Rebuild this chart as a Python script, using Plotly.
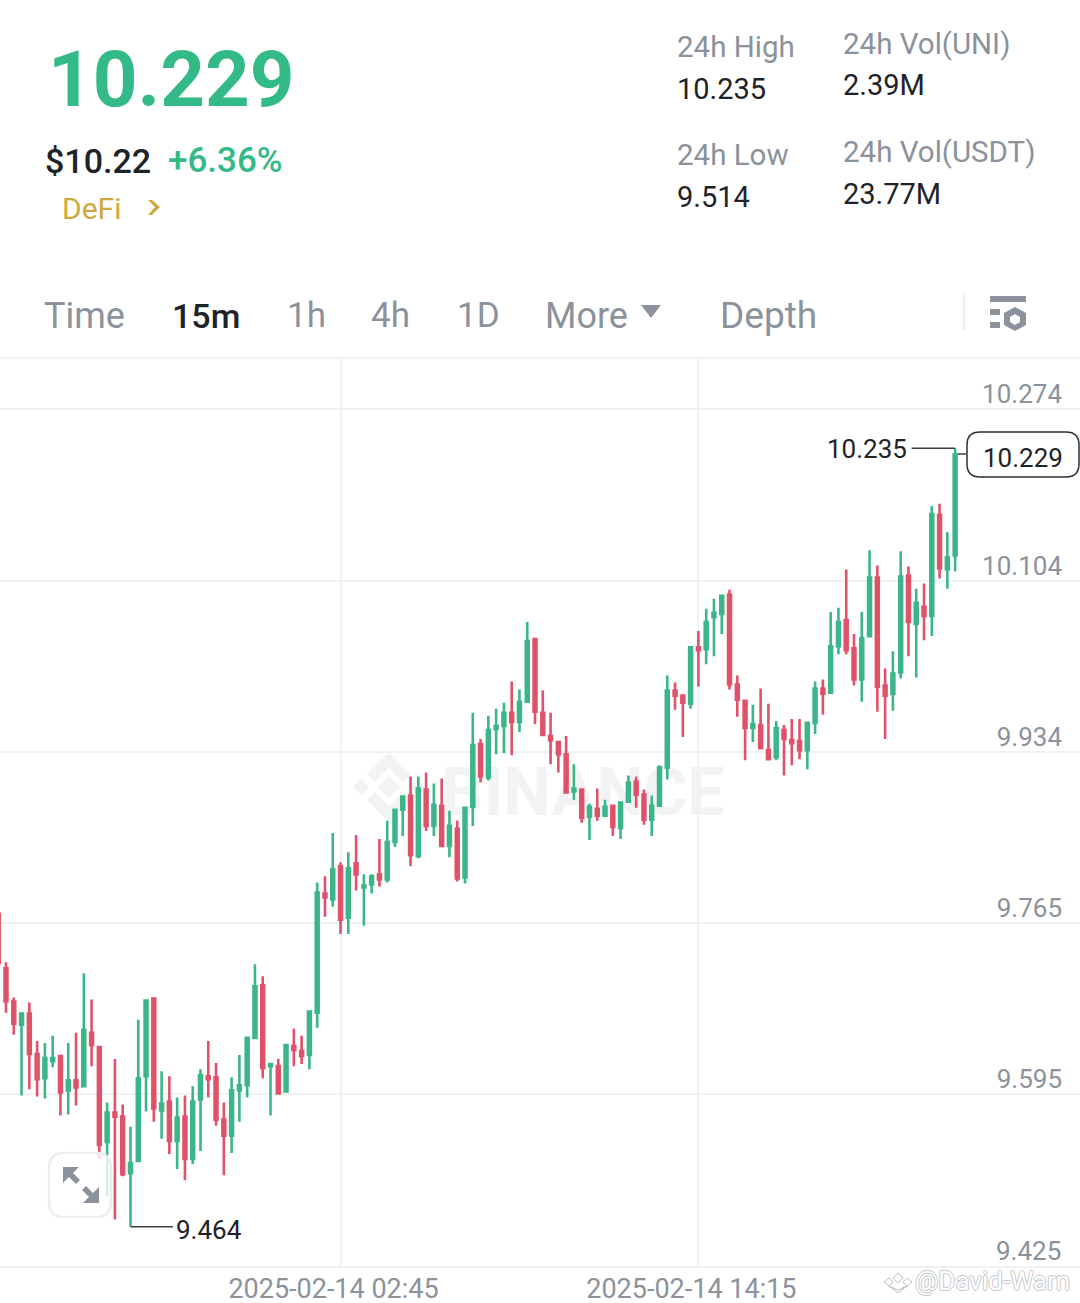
import pandas as pd
import plotly.graph_objects as go

WIDTH = 1080
HEIGHT = 1303

# candle values (15m candles, UNI/USDT)
high = [
    9.776, 9.726, 9.691, 9.675, 9.686, 9.648, 9.646, 9.653, 9.634, 9.646,
    9.656, 9.715, 9.689, 9.642, 9.587, 9.630, 9.585, 9.563, 9.669, 9.688,
    9.690, 9.618, 9.613, 9.592, 9.594, 9.603, 9.620, 9.648, 9.626, 9.587,
    9.612, 9.634, 9.651, 9.724, 9.712, 9.626, 9.630, 9.644, 9.660, 9.653,
    9.677, 9.805, 9.811, 9.854, 9.825, 9.835, 9.852, 9.813, 9.813, 9.848,
    9.866, 9.878, 9.891, 9.910, 9.910, 9.914, 9.903, 9.908, 9.876, 9.866,
    9.879, 9.973, 9.947, 9.970, 9.977, 9.983, 10.004, 9.996, 10.063, 10.047,
    9.995, 9.973, 9.945, 9.950, 9.922, 9.897, 9.883, 9.898, 9.887, 9.882,
    9.884, 9.911, 9.910, 9.897, 9.891, 9.921, 10.010, 10.003, 9.991, 10.038,
    10.054, 10.076, 10.086, 10.089, 10.095, 10.010, 9.986, 9.981, 9.997, 9.982,
    9.965, 9.961, 9.967, 9.967, 9.963, 10.004, 10.006, 10.073, 10.077, 10.115,
    10.051, 10.073, 10.134, 10.119, 10.017, 10.034, 10.133, 10.118, 10.096, 10.101,
    10.178, 10.180, 10.152, 10.235,
]
body_top = [
    9.774, 9.720, 9.687, 9.675, 9.675, 9.635, 9.631, 9.631, 9.633, 9.609,
    9.609, 9.659, 9.656, 9.642, 9.577, 9.577, 9.573, 9.527, 9.611, 9.688,
    9.690, 9.586, 9.588, 9.572, 9.573, 9.588, 9.614, 9.613, 9.612, 9.570,
    9.599, 9.604, 9.651, 9.702, 9.703, 9.625, 9.623, 9.644, 9.643, 9.638,
    9.677, 9.795, 9.794, 9.818, 9.821, 9.819, 9.824, 9.802, 9.811, 9.813,
    9.845, 9.877, 9.890, 9.891, 9.898, 9.897, 9.882, 9.881, 9.861, 9.858,
    9.879, 9.941, 9.942, 9.956, 9.960, 9.973, 9.973, 9.984, 10.044, 10.046,
    9.973, 9.950, 9.944, 9.932, 9.898, 9.897, 9.880, 9.878, 9.880, 9.881,
    9.884, 9.904, 9.905, 9.892, 9.881, 9.919, 9.995, 9.995, 9.990, 10.038,
    10.038, 10.063, 10.072, 10.089, 10.090, 10.001, 9.985, 9.962, 9.961, 9.936,
    9.958, 9.956, 9.946, 9.945, 9.963, 9.997, 9.997, 10.039, 10.063, 10.065,
    10.037, 10.047, 10.107, 10.107, 10.000, 10.012, 10.108, 10.109, 10.082, 10.078,
    10.170, 10.169, 10.127, 10.229,
]
body_bottom = [
    9.725, 9.687, 9.665, 9.664, 9.635, 9.610, 9.611, 9.628, 9.597, 9.599,
    9.602, 9.603, 9.644, 9.545, 9.548, 9.573, 9.516, 9.517, 9.529, 9.613,
    9.581, 9.579, 9.549, 9.549, 9.531, 9.531, 9.590, 9.610, 9.570, 9.554,
    9.554, 9.599, 9.604, 9.651, 9.621, 9.623, 9.596, 9.598, 9.639, 9.633,
    9.634, 9.676, 9.790, 9.788, 9.768, 9.770, 9.813, 9.800, 9.803, 9.808,
    9.808, 9.845, 9.877, 9.832, 9.831, 9.861, 9.861, 9.841, 9.841, 9.809,
    9.810, 9.880, 9.910, 9.909, 9.957, 9.960, 9.964, 9.964, 9.984, 9.974,
    9.951, 9.946, 9.932, 9.894, 9.895, 9.869, 9.870, 9.871, 9.871, 9.860,
    9.859, 9.885, 9.892, 9.867, 9.867, 9.881, 9.919, 9.990, 9.983, 9.982,
    10.035, 10.036, 10.068, 10.071, 10.001, 9.986, 9.958, 9.958, 9.938, 9.927,
    9.929, 9.947, 9.943, 9.936, 9.936, 9.963, 9.992, 9.993, 10.039, 10.035,
    10.006, 10.006, 10.049, 9.999, 9.990, 9.992, 10.013, 10.063, 10.061, 10.069,
    10.069, 10.116, 10.115, 10.129,
]
low = [
    9.718, 9.676, 9.654, 9.594, 9.600, 9.593, 9.591, 9.622, 9.574, 9.575,
    9.584, 9.603, 9.623, 9.531, 9.494, 9.471, 9.514, 9.464, 9.529, 9.578,
    9.568, 9.551, 9.536, 9.521, 9.510, 9.526, 9.539, 9.592, 9.564, 9.515,
    9.537, 9.568, 9.592, 9.651, 9.611, 9.574, 9.596, 9.597, 9.623, 9.625,
    9.620, 9.661, 9.771, 9.781, 9.754, 9.754, 9.797, 9.762, 9.794, 9.801,
    9.805, 9.840, 9.851, 9.821, 9.829, 9.856, 9.851, 9.841, 9.830, 9.806,
    9.804, 9.861, 9.904, 9.906, 9.932, 9.933, 9.931, 9.954, 9.984, 9.962,
    9.951, 9.922, 9.914, 9.894, 9.887, 9.864, 9.847, 9.866, 9.870, 9.851,
    9.848, 9.884, 9.879, 9.862, 9.851, 9.881, 9.907, 9.976, 9.949, 9.977,
    9.999, 10.021, 10.029, 10.051, 9.996, 9.969, 9.926, 9.944, 9.937, 9.927,
    9.926, 9.911, 9.921, 9.927, 9.917, 9.952, 9.971, 9.993, 10.031, 10.031,
    10.000, 9.984, 10.049, 9.974, 9.947, 9.975, 10.007, 10.029, 10.008, 10.045,
    10.049, 10.106, 10.096, 10.113,
]
# R = close under open, G = close over open
direction = (
    "RRRGRRGGRG" "RGRRGRRGGG"
    "RGRGRGGRRR" "GGGGRGRGRR"
    "GGRGRGRGGR" "GGGRGRGRGR"
    "GGRGGGRGGR" "RRRRGRGRGR"
    "GGRRGGGRRG" "RGGGRRRGRR"
    "GRRRGGRGGR" "RGGRRGGRGR"
    "GRGG"
)

price_ticks = [10.274, 10.104, 9.934, 9.765, 9.595, 9.425]
price_labels = ["10.274", "10.104", "9.934", "9.765", "9.595", "9.425"]
time_ticks = ["2025-02-14 02:45", "2025-02-14 14:15"]

GREEN = "#3DB58A"
RED = "#DF5269"
BRIGHT_GREEN = "#33BA87"
DARK = "#1E2329"
GRAY = "#8B929C"
GRID = "#F0F1F2"
GOLD = "#CFA93F"
WATERMARK = "#F2F3F4"
FONT = "Roboto"


def px(x):
    return x / WIDTH


def py(y):
    return 1 - y / HEIGHT


def poly(points):
    # closed path in screen pixels, converted to paper coords
    parts = ["%.5f,%.5f" % (px(x), py(y)) for x, y in points]
    return "M " + " L ".join(parts) + " Z"


def rounded(x0, y0, x1, y1, r):
    def p(x, y):
        return "%.5f,%.5f" % (px(x), py(y))
    return (
        f"M {p(x0 + r, y0)} L {p(x1 - r, y0)} Q {p(x1, y0)} {p(x1, y0 + r)} "
        f"L {p(x1, y1 - r)} Q {p(x1, y1)} {p(x1 - r, y1)} "
        f"L {p(x0 + r, y1)} Q {p(x0, y1)} {p(x0, y1 - r)} "
        f"L {p(x0, y0 + r)} Q {p(x0, y0)} {p(x0 + r, y0)} Z"
    )


def text(x, y, label, size, color, weight=400, anchor="left"):
    # left-anchored text sits about 2px right of x, take that back
    fig.add_annotation(
        xref="paper", yref="paper", x=px(x - 2 if anchor == "left" else x), y=py(y),
        text=label, showarrow=False, xanchor=anchor, yanchor="middle", borderpad=0,
        font=dict(family=FONT, size=size, color=color, weight=weight),
    )


def shape_path(path, fill=None, line=None, width=0, layer="above"):
    fig.add_shape(
        type="path", xref="paper", yref="paper", path=path, layer=layer,
        fillcolor=fill if fill else "rgba(0,0,0,0)",
        line=dict(color=line if line else "rgba(0,0,0,0)", width=width),
    )


def shape_line(x0, y0, x1, y1, color, width):
    fig.add_shape(
        type="line", xref="paper", yref="paper",
        x0=px(x0), y0=py(y0), x1=px(x1), y1=py(y1),
        line=dict(color=color, width=width),
    )


times = pd.date_range("2025-02-13 15:45", periods=len(high), freq="15min")
opens = [b if d == "G" else t for t, b, d in zip(body_top, body_bottom, direction)]
closes = [t if d == "G" else b for t, b, d in zip(body_top, body_bottom, direction)]

fig = go.Figure()
fig.add_trace(go.Candlestick(
    x=times, open=opens, high=high, low=low, close=closes,
    increasing=dict(line=dict(color=GREEN, width=2.6), fillcolor=GREEN),
    decreasing=dict(line=dict(color=RED, width=2.6), fillcolor=RED),
    whiskerwidth=0, showlegend=False, hoverinfo="skip",
))

fig.update_layout(
    width=WIDTH, height=HEIGHT, margin=dict(l=0, r=0, t=0, b=0),
    paper_bgcolor="white", plot_bgcolor="white", showlegend=False,
    boxgap=0.63, boxgroupgap=0,
    font=dict(family=FONT),
    xaxis=dict(
        range=["2025-02-13 15:48:26", "2025-02-15 02:30:45"],
        rangeslider=dict(visible=False), automargin=False,
        tickmode="array", tickvals=time_ticks, ticktext=time_ticks,
        tickfont=dict(size=27, color=GRAY), ticklabelshift=-7, ticklabelstandoff=-2,
        showgrid=True, gridcolor=GRID, gridwidth=1.5, ticks="", zeroline=False,
        showline=True, linecolor=GRID, linewidth=2,
    ),
    yaxis=dict(
        domain=[37 / HEIGHT, 945 / HEIGHT], range=[9.425, 10.3245], automargin=False,
        tickmode="array", tickvals=price_ticks[:-1], ticktext=price_labels[:-1],
        tickfont=dict(size=26, color=GRAY), side="right",
        ticklabelposition="inside", ticklabelshift=-15, ticklabelstandoff=15,
        showgrid=True, gridcolor=GRID, gridwidth=1.5, showline=False, ticks="",
        zeroline=False,
    ),
)

# inside tick labels get hidden at the end of the range, so the last one is placed by hand
text(1062, 1251, price_labels[-1], 26, GRAY, anchor="right")

# header
text(49, 79, "10.229", 78, BRIGHT_GREEN, 700)
text(46, 161, "$10.22", 34, DARK, 500)
text(169, 161, "+6.36%", 35, BRIGHT_GREEN, 500)
text(63, 208, "DeFi", 30, GOLD)
shape_path(poly([(148, 200), (152, 200), (160, 207), (152, 215), (148, 215), (155, 207)]), fill=GOLD)

text(678, 47, "24h High", 29.5, GRAY)
text(678, 89, "10.235", 29, DARK)
text(844, 44, "24h Vol(UNI)", 29.5, GRAY)
text(844, 85, "2.39M", 29, DARK)
text(678, 155, "24h Low", 29.5, GRAY)
text(678, 197, "9.514", 29, DARK)
text(844, 152, "24h Vol(USDT)", 29.5, GRAY)
text(844, 194, "23.77M", 29, DARK)

# interval tabs
text(45, 316, "Time", 36, GRAY)
text(173, 316, "15m", 34, DARK, 500)
text(288, 316, "1h", 35, GRAY)
text(372, 316, "4h", 35, GRAY)
text(458, 316, "1D", 35, GRAY)
text(546, 316, "More", 36, GRAY)
shape_path(poly([(641, 305), (661, 305), (651, 318)]), fill=GRAY)
text(721, 316, "Depth", 37, GRAY)
shape_line(964, 295, 964, 330, "#EDEEF0", 2.5)

# settings icon
shape_path(poly([(990, 296), (1026, 296), (1026, 302), (990, 302)]), fill=GRAY)
shape_path(poly([(990, 309), (1000, 309), (1000, 315), (990, 315)]), fill=GRAY)
shape_path(poly([(990, 322), (1000, 322), (1000, 328), (990, 328)]), fill=GRAY)
shape_path(poly([(1015, 307), (1026, 313), (1026, 325), (1015, 331), (1004, 325), (1004, 313)]), fill=GRAY)
shape_path(poly([(1015, 314), (1020, 317), (1020, 322), (1015, 325), (1010, 322), (1010, 317)]), fill="white")

shape_line(0, 358, WIDTH, 358, GRID, 2.5)

# binance watermark, under the candles
cx, cy = 389, 787
for pts in (
    [(0, -35), (22, -13), (14, -5), (0, -19), (-14, -5), (-22, -13)],
    [(0, 35), (22, 13), (14, 5), (0, 19), (-14, 5), (-22, 13)],
    [(0, -11), (11, 0), (0, 11), (-11, 0)],
    [(-28, -8), (-20, 0), (-28, 8), (-36, 0)],
    [(28, -8), (36, 0), (28, 8), (20, 0)],
):
    shape_path(poly([(cx + a, cy + b) for a, b in pts]), fill=WATERMARK, layer="below")
fig.add_shape(
    type="rect", xref="paper", yref="paper", layer="below",
    x0=px(440), x1=px(726), y0=py(810), y1=py(764),
    line=dict(width=0), fillcolor="rgba(0,0,0,0)",
    label=dict(text="BINANCE", font=dict(family=FONT, size=67, color=WATERMARK, weight=700),
               textposition="middle center"),
)

# high and low markers: leader line first, then its label
for when, value, shift, anchor, label_dx, label_dy in (
    (times[123], 10.235, -45, "right", -47, 1),
    (times[17], 9.464, 44, "left", 45, 3),
):
    fig.add_annotation(
        x=when, y=value, text="", showarrow=True, arrowhead=0, arrowwidth=1.5,
        arrowcolor="#3A3F46", ax=shift, ay=0, standoff=0,
    )
    fig.add_annotation(
        x=when, y=value, text=str(value), showarrow=False, xanchor=anchor, yanchor="middle",
        xshift=label_dx, yshift=-label_dy, borderpad=0,
        font=dict(family=FONT, size=26, color=DARK),
    )

# current price box
shape_line(958, 454, 966, 454, "#3A3F46", 1.5)
shape_path(rounded(967, 432, 1079, 477, 13), fill="white", line="#2B3038", width=1.5)
text(1022.5, 458, "10.229", 26, DARK, anchor="center")

# expand button
shape_path(rounded(49, 1153, 111, 1217, 15), fill="rgba(255,255,255,0.8)", line="#ECEEEF", width=2.5)
shape_path(poly([(63, 1167), (79, 1167), (73, 1173), (80, 1180), (76, 1184), (69, 1177), (63, 1183)]), fill=GRAY)
shape_path(poly([(99, 1203), (83, 1203), (89, 1197), (82, 1190), (86, 1186), (93, 1193), (99, 1187)]), fill=GRAY)

# author stamp
stamp = "#B9BCC0"
lx, ly = 898, 1282
for pts in (
    [(-5, -4), (0, -9), (5, -4), (0, 1)],
    [(-14, 0), (-9, -4), (-5, 0), (-9, 4)],
    [(14, 0), (9, -4), (5, 0), (9, 4)],
):
    shape_path(poly([(lx + a, ly + b) for a, b in pts]), line=stamp, width=1)
shape_path(poly([(lx - 9, ly + 4), (lx, ly + 11), (lx + 9, ly + 4), (lx, ly + 8)]), line=stamp, width=1)
fig.add_annotation(
    xref="paper", yref="paper", x=px(914), y=py(1281), text="@David-Warn", showarrow=False,
    xanchor="left", yanchor="middle", borderpad=0,
    font=dict(family=FONT, size=26, color="white",
              shadow="1px 0 0 #C4C7CA, -1px 0 0 #C4C7CA, 0 1px 0 #C4C7CA, 0 -1px 0 #C4C7CA"),
)

fig.write_html("out.html", config={"displayModeBar": False},
               post_script="document.body.style.margin='0';")
